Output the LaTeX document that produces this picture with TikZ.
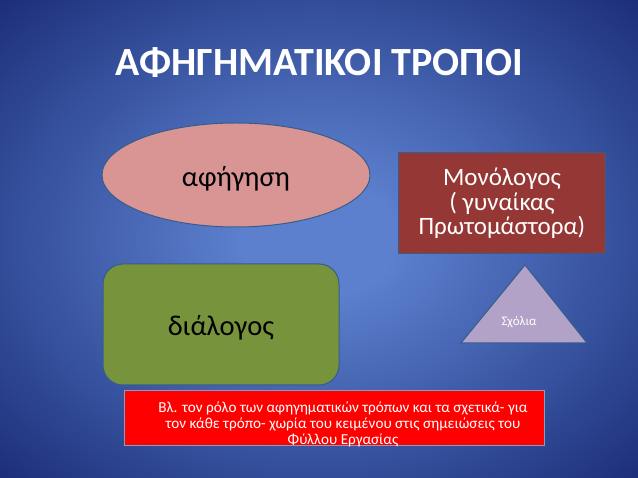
\documentclass[tikz,border=0pt]{standalone}
\usepackage{fontspec}
\setmainfont{Carlito}
\usetikzlibrary{shapes.geometric}
\definecolor{slideedge}{RGB}{28,44,118}
\definecolor{slideside}{RGB}{50,76,152}
\definecolor{slidemid}{RGB}{92,128,206}
\definecolor{shapeline}{RGB}{56,93,138}
\definecolor{rosefill}{RGB}{217,149,148}
\definecolor{brickfill}{RGB}{149,55,53}
\definecolor{olivefill}{RGB}{119,147,60}
\definecolor{lilacfill}{RGB}{179,162,199}
\pgfdeclareradialshading{slideglow}{\pgfpoint{0bp}{0bp}}{%
  color(0bp)=(slidemid); color(6bp)=(slidemid); color(25bp)=(slideside);
  color(36bp)=(slideedge); color(50bp)=(slideedge)}
\tikzset{
  shapebox/.style={draw=shapeline, line width=1pt},
  bigtext/.style={font=\fontsize{28.5}{34}\selectfont, text height=23pt, text depth=0pt},
}

\begin{document}
\begin{tikzpicture}[x=1pt,y=-1pt]
\shade[shading=slideglow] (0,0) rectangle (638,478);
\useasboundingbox (0,0) rectangle (638,478);

\node[text=white, font=\bfseries\fontsize{40}{46}\selectfont] (title) at (319,63) {ΑΦΗΓΗΜΑΤΙΚΟΙ ΤΡΟΠΟΙ};

\node[ellipse, shapebox, fill=rosefill, minimum width=268pt, minimum height=104pt, bigtext] (narr) at (236,175) {αφήγηση};

\node[shapebox, fill=brickfill, minimum width=207pt, minimum height=101pt, text=white, align=center, font=\fontsize{25}{24.5}\selectfont] (mono) at (502,203.5) {Μονόλογος\\( γυναίκας\\Πρωτομάστορα)};

\node[shapebox, fill=olivefill, rounded corners=20pt, minimum width=236pt, minimum height=121pt, bigtext] (dial) at (221,324.5) {διάλογος};

\coordinate (tipA) at (525,265);
\coordinate (tipB) at (587,343);
\coordinate (tipC) at (461,343);
\draw[shapebox, fill=lilacfill] (tipA) -- (tipB) -- (tipC) -- cycle;
\node[text=white, font=\fontsize{13}{15}\selectfont] (comm) at (519,322) {Σχόλια};

\node[fill=red, draw=shapeline!60!white, minimum width=420pt, minimum height=55pt] (note) at (334,417.5) {};
\node[text=white, align=center, font=\fontsize{15.2}{16}\selectfont] (notetext) at (343,424) {Βλ. τον ρόλο των αφηγηματικών τρόπων και τα σχετικά- για\\τον κάθε τρόπο- χωρία του κειμένου στις σημειώσεις του\\Φύλλου Εργασίας};
\end{tikzpicture}
\end{document}
